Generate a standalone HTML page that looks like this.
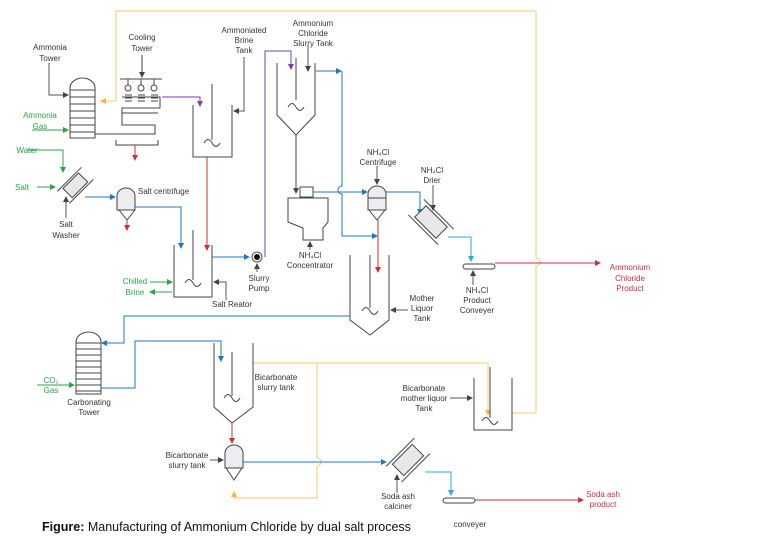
<!DOCTYPE html>
<html><head><meta charset="utf-8"><style>
body{margin:0;background:#fff;}
svg{display:block;font-family:"Liberation Sans",sans-serif;}
text{font-size:8px;fill:#333;}
.g{fill:#2ea24a}.r{fill:#c8323a}
</style></head><body>
<svg width="768" height="543" viewBox="0 0 768 543" xmlns="http://www.w3.org/2000/svg">
<defs>
<marker id="ak" markerWidth="6" markerHeight="6" refX="5" refY="3" orient="auto"><path d="M0,0L6,3L0,6z" fill="#444"/></marker>
<marker id="ab" markerWidth="6" markerHeight="6" refX="5" refY="3" orient="auto"><path d="M0,0L6,3L0,6z" fill="#1f77c4"/></marker>
<marker id="ar" markerWidth="6" markerHeight="6" refX="5" refY="3" orient="auto"><path d="M0,0L6,3L0,6z" fill="#c8323a"/></marker>
<marker id="ag" markerWidth="6" markerHeight="6" refX="5" refY="3" orient="auto"><path d="M0,0L6,3L0,6z" fill="#2ea24a"/></marker>
<marker id="ay" markerWidth="6" markerHeight="6" refX="5" refY="3" orient="auto"><path d="M0,0L6,3L0,6z" fill="#f5b642"/></marker>
<marker id="ap" markerWidth="6" markerHeight="6" refX="5" refY="3" orient="auto"><path d="M0,0L6,3L0,6z" fill="#7a3fb0"/></marker>
<marker id="ac" markerWidth="6" markerHeight="6" refX="5" refY="3" orient="auto"><path d="M0,0L6,3L0,6z" fill="#2aa8e0"/></marker>
</defs>
<g fill="none" stroke-width="1">
<path d="M116,101V11H536V258a4,4 0 0 1 0,8V413H512" stroke="#f5c96a"/>
<path d="M116,101H101" stroke="#f5c96a" marker-end="url(#ay)"/>
<path d="M253,363H488V415" stroke="#f5c96a" marker-end="url(#ay)"/>
<path d="M317,363V458a4,4 0 0 1 0,8V498H234V492" stroke="#f5c96a" marker-end="url(#ay)"/>
<path d="M70,138V88a12.5,10 0 0 1 25,0V138Z M70,90H95M70,97H95M70,104H95M70,111H95M70,118H95M70,125H95M70,132H95" stroke="#444"/>
<path d="M49,63V95H68" stroke="#555" marker-end="url(#ak)"/>
<path d="M32,130H68" stroke="#2ea24a" marker-end="url(#ag)"/>
<path d="M95,134H155V125H122V113H158" stroke="#444"/>
<path d="M120,79H162" stroke="#444"/><path d="M142,55V77" stroke="#444" marker-end="url(#ak)"/>
<circle cx="128" cy="88" r="3" stroke="#444"/><circle cx="141" cy="88" r="3" stroke="#444"/><circle cx="154" cy="88" r="3" stroke="#444"/>
<path d="M128,79V85M141,79V85M154,79V85M125,95H132M125,98H132M125,101H132M138,95H145M138,98H145M138,101H145M151,95H158M151,98H158M151,101H158" stroke="#444"/>
<path d="M122,97H160V108H122V113" stroke="#444"/>
<path d="M116,140V145H158V140" stroke="#444"/>
<path d="M135,145V160" stroke="#c8323a" marker-end="url(#ar)"/>
<path d="M162,97H200V106" stroke="#7a3fb0" marker-end="url(#ap)"/>
<path d="M193,105V157H232V105M212,84V140" stroke="#444"/>
<path d="M204,143q4,-7 8,0q4,7 8,0" stroke="#444"/>
<path d="M244,57V111H234" stroke="#555" marker-end="url(#ak)"/>
<path d="M207,157V250" stroke="#c8323a" marker-end="url(#ar)"/>
<g transform="rotate(-45 75 185)"><rect x="64" y="179" width="22" height="13" fill="#e8e8ea" stroke="#444"/><path d="M58,177H92M58,194H92" stroke="#444"/></g>
<path d="M27,150H63V172" stroke="#2ea24a" marker-end="url(#ag)"/>
<path d="M37,187H55" stroke="#2ea24a" marker-end="url(#ag)"/>
<path d="M66,218V197" stroke="#555" marker-end="url(#ak)"/>
<path d="M85,197H115" stroke="#1f77c4" marker-end="url(#ab)"/>
<path d="M117,210V196a9,8 0 0 1 18,0V210Z" fill="#ededef" stroke="#444"/>
<path d="M119,210L127,220L135,210" stroke="#444"/>
<path d="M127,220V230" stroke="#c8323a" marker-end="url(#ar)"/>
<path d="M135,207H181V248" stroke="#1f77c4" marker-end="url(#ab)"/>
<path d="M174,245V297H212V245M193,230V280" stroke="#444"/>
<path d="M185,283q4,-7 8,0q4,7 8,0" stroke="#444"/>
<path d="M226,300V282H214" stroke="#555" marker-end="url(#ak)"/>
<path d="M150,282H172" stroke="#2ea24a" marker-end="url(#ag)"/>
<path d="M172,292H150" stroke="#2ea24a" marker-end="url(#ag)"/>
<path d="M212,257H249" stroke="#1f77c4" marker-end="url(#ab)"/>
<circle cx="257" cy="257" r="5" stroke="#444"/><circle cx="257" cy="257" r="3" fill="#111"/>
<path d="M257,272V264" stroke="#555" marker-end="url(#ak)"/>
<path d="M265,257V51H291V69" stroke="#7a3fb0" marker-end="url(#ap)"/>
<path d="M277,63V115L296,135L315,115V63M296,58V100M296,135V190" stroke="#444"/>
<path d="M296,190V193" stroke="#444" marker-end="url(#ak)"/>
<path d="M288,107q4,-7 8,0q4,7 8,0" stroke="#444"/>
<path d="M308,45V71" stroke="#555" marker-end="url(#ak)"/>
<path d="M316,71H341" stroke="#1f77c4" marker-end="url(#ab)"/>
<path d="M342,71V186a4,4 0 0 0 0,8V236H377" stroke="#1f77c4" marker-end="url(#ab)"/>
<rect x="300" y="187" width="13" height="10" stroke="#444"/>
<path d="M288,198H328V222L323,228V240H303V228L288,222Z" stroke="#444"/>
<path d="M310,250V242" stroke="#555" marker-end="url(#ak)"/>
<path d="M313,192H367" stroke="#1f77c4" marker-end="url(#ab)"/>
<path d="M368,210V194a9,8 0 0 1 18,0V210Z" fill="#ededef" stroke="#444"/>
<path d="M368,198H386M369,210L377,220L385,210" stroke="#444"/>
<path d="M377,166V184" stroke="#555" marker-end="url(#ak)"/>
<path d="M378,220V272" stroke="#c8323a" marker-end="url(#ar)"/>
<path d="M386,192H420V214" stroke="#1f77c4" marker-end="url(#ab)"/>
<g transform="rotate(45 431 222)"><rect x="416" y="214" width="30" height="16" fill="#e8e8ea" stroke="#444"/><path d="M410,211H452M410,233H452" stroke="#444"/></g>
<path d="M433,185V210" stroke="#555" marker-end="url(#ak)"/>
<path d="M448,237H471V261" stroke="#2aa8e0" marker-end="url(#ac)"/>
<rect x="463" y="264" width="32" height="5" rx="2.5" stroke="#444"/>
<path d="M473,285V271" stroke="#555" marker-end="url(#ak)"/>
<path d="M495,263H600" stroke="#c8323a" marker-end="url(#ar)"/>
<path d="M350,255V320L370,335L389,320V255M370,255V308" stroke="#444"/>
<path d="M362,311q4,-7 8,0q4,7 8,0" stroke="#444"/>
<path d="M408,310H391" stroke="#555" marker-end="url(#ak)"/>
<path d="M350,316H124V343H102" stroke="#1f77c4" marker-end="url(#ab)"/>
<!-- carbonating tower -->
<path d="M76,394V342a12.5,10 0 0 1 25,0V394Z M76,343H101M76,349H101M76,355H101M76,361H101M76,367H101M76,373H101M76,379H101M76,385H101M76,391H101" stroke="#444"/>
<path d="M37,385H74" stroke="#2ea24a" marker-end="url(#ag)"/>
<path d="M101,388H135V341H221V361" stroke="#1f77c4" marker-end="url(#ab)"/>
<!-- bicarbonate slurry tank -->
<path d="M214,343V407L232,423L253,407V343M232,352V396" stroke="#444"/>
<path d="M224,398q4,-7 8,0q4,7 8,0" stroke="#444"/>
<path d="M232,423V443" stroke="#c8323a" marker-end="url(#ar)"/>
<path d="M225,468V453a9,8 0 0 1 18,0V468Z" fill="#ededef" stroke="#444"/>
<path d="M226,468L234,480L242,468" stroke="#444"/>
<path d="M210,460H223" stroke="#555" marker-end="url(#ak)"/>
<path d="M243,462H386" stroke="#1f77c4" marker-end="url(#ab)"/>
<g transform="rotate(-45 408 460)"><rect x="394" y="452" width="28" height="16" fill="#e8e8ea" stroke="#444"/><path d="M388,449H428M388,471H428" stroke="#444"/></g>
<path d="M397,493V475" stroke="#555" marker-end="url(#ak)"/>
<path d="M425,472H451V495" stroke="#2aa8e0" marker-end="url(#ac)"/>
<rect x="443" y="498" width="32" height="5" rx="2.5" stroke="#444"/>
<path d="M475,500H583" stroke="#c8323a" marker-end="url(#ar)"/>
<path d="M474,378V430H512V378M490,367V418" stroke="#444"/>
<path d="M482,421q4,-7 8,0q4,7 8,0" stroke="#444"/>
<path d="M450,398H472" stroke="#555" marker-end="url(#ak)"/>
</g>
<text x="50" y="50" text-anchor="middle" font-size="9">Ammonia</text><text x="50" y="61" text-anchor="middle" font-size="9">Tower</text>
<text x="142" y="40" text-anchor="middle" font-size="9">Cooling</text><text x="142" y="51" text-anchor="middle" font-size="9">Tower</text>
<text x="40" y="118" text-anchor="middle" class="g">Ammonia</text><text x="40" y="129" text-anchor="middle" class="g">Gas</text>
<text x="27" y="153" text-anchor="middle" class="g">Water</text>
<text x="22" y="190" text-anchor="middle" class="g">Salt</text>
<text x="66" y="227" text-anchor="middle">Salt</text><text x="66" y="238" text-anchor="middle">Washer</text>
<text x="138" y="194">Salt centrifuge</text>
<text x="244" y="33" text-anchor="middle">Ammoniated</text><text x="244" y="43" text-anchor="middle">Brine</text><text x="244" y="53" text-anchor="middle">Tank</text>
<text x="313" y="26" text-anchor="middle">Ammonium</text><text x="313" y="36" text-anchor="middle">Chloride</text><text x="313" y="46" text-anchor="middle">Slurry Tank</text>
<text x="378" y="155" text-anchor="middle">NH₄Cl</text><text x="378" y="165" text-anchor="middle">Centrifuge</text>
<text x="432" y="173" text-anchor="middle">NH₄Cl</text><text x="432" y="183" text-anchor="middle">Drier</text>
<text x="310" y="258" text-anchor="middle">NH₄Cl</text><text x="310" y="268" text-anchor="middle">Concentrator</text>
<text x="259" y="281" text-anchor="middle">Slurry</text><text x="259" y="291" text-anchor="middle">Pump</text>
<text x="135" y="284" text-anchor="middle" class="g">Chilled</text><text x="135" y="295" text-anchor="middle" class="g">Brine</text>
<text x="232" y="307" text-anchor="middle">Salt Reator</text>
<text x="422" y="301" text-anchor="middle">Mother</text><text x="422" y="311" text-anchor="middle">Liquor</text><text x="422" y="321" text-anchor="middle">Tank</text>
<text x="477" y="293" text-anchor="middle">NH₄Cl</text><text x="477" y="303" text-anchor="middle">Product</text><text x="477" y="313" text-anchor="middle">Conveyer</text>
<text x="630" y="270" text-anchor="middle" class="r">Ammonium</text><text x="630" y="281" text-anchor="middle" class="r">Chloride</text><text x="630" y="291" text-anchor="middle" class="r">Product</text>
<text x="51" y="383" text-anchor="middle" class="g">CO₂</text><text x="51" y="393" text-anchor="middle" class="g">Gas</text>
<text x="89" y="405" text-anchor="middle">Carbonating</text><text x="89" y="415" text-anchor="middle">Tower</text>
<text x="276" y="380" text-anchor="middle">Bicarbonate</text><text x="276" y="390" text-anchor="middle">slurry tank</text>
<text x="424" y="391" text-anchor="middle">Bicarbonate</text><text x="424" y="401" text-anchor="middle">mother liquor</text><text x="424" y="411" text-anchor="middle">Tank</text>
<text x="187" y="458" text-anchor="middle">Bicarbonate</text><text x="187" y="468" text-anchor="middle">slurry tank</text>
<text x="398" y="499" text-anchor="middle">Soda ash</text><text x="398" y="509" text-anchor="middle">calciner</text>
<text x="603" y="497" text-anchor="middle" class="r">Soda ash</text><text x="603" y="507" text-anchor="middle" class="r">product</text>
<text x="470" y="527" text-anchor="middle">conveyer</text>
<text x="42" y="531" style="font-size:12.5px;fill:#111"><tspan font-weight="bold">Figure:</tspan> Manufacturing of Ammonium Chloride by dual salt process</text>
</svg>
</body></html>
